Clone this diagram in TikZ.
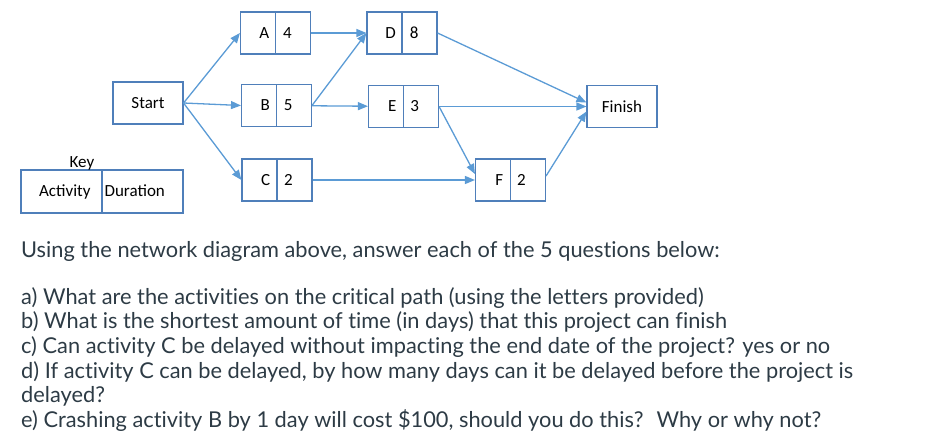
\documentclass[tikz,border=0pt]{standalone}
\usepackage{fontspec}
\setmainfont{Carlito}
\newfontfamily\questionfont[Ligatures=NoCommon]{Lato}
\usepackage{tikz}
\usetikzlibrary{shapes, arrows.meta, positioning}
\definecolor{boxColor}{HTML}{4F7FBA}
\definecolor{arrowColor}{HTML}{5B9BD5}
\definecolor{questionColor}{HTML}{2D3B45}
\tikzstyle{startstop} = [rectangle, 
minimum width=70pt, 
minimum height=42pt,
text centered, 
draw=boxColor,
line width=1.1pt]
\tikzstyle{activity} = [rectangle, 
minimum width=70pt, 
minimum height=42pt,
text centered, 
draw=boxColor,
line width=1.1pt,
path picture={
      \draw [boxColor, line width=1.1pt]
        (path picture bounding box.north) -- (path picture bounding box.south);
    }
]
\tikzstyle{arrow} = [line width=1.3pt, draw=arrowColor, -{Triangle[length=10pt,width=8pt]}]
\tikzstyle{question} = [anchor=north west, inner sep=0pt, align=left,
text=questionColor, font=\questionfont\fontsize{21.8}{24.6}\selectfont]

\begin{document}
\begin{tikzpicture}[x=1pt,y=-1pt,font=\fontsize{17}{20}\selectfont]
    \useasboundingbox (0,0) rectangle (927,442);
    % Nodes
    \node[startstop] (start) at (148,103) {Start};
    \node[activity] (A) at (275.5,33) {A\hspace{14pt}4};
    \node[activity] (B) at (276.5,105.5) {B\hspace{14pt}5};
    \node[activity] (C) at (277,180) {C\hspace{14pt}2};
    \node[activity] (D) at (402,33) {D\hspace{14pt}8};
    \node[activity] (E) at (403.5,106.5) {E\hspace{14pt}3};
    \node[activity] (F) at (510.5,180) {F\hspace{14pt}2};
    \node[startstop] (finish) at (622,106.5) {Finish};
    \node[activity, minimum width=162pt, minimum height=43pt] (key) at (102,191.5) {Activity\hspace{14pt}Duration};
    \node[anchor=base, inner sep=0pt] (keylabel) at (82,167) {Key};

    % Questions
    \node[question] (questions) at (21,241) {Using the network diagram above, answer each of the 5 questions below:\\[22.4pt]
a) What are the activities on the critical path (using the letters provided)\\
b) What is the shortest amount of time (in days) that this project can finish\\
c) Can activity C be delayed without impacting the end date of the project? yes or no\\
d) If activity C can be delayed, by how many days can it be delayed before the project is\\
delayed?\\
e) Crashing activity B by 1 day will cost \$100, should you do this?~ Why or why not?};

    % Arrows
    \draw[arrow] (start.east) -- (A.west);
    \draw[arrow] (start.east) -- (B.west);
    \draw[arrow] (start.east) -- (C.west);
    \draw[arrow] (A) -- (D);
    \draw[arrow] (B.east) -- (D.west);
    \draw[arrow] (B) -- (E);
    \draw[arrow] (D.east) -- ([yshift=4pt]finish.west);
    \draw[arrow] (E) -- (finish);
    \draw[arrow] (E.east) -- ([yshift=6pt]F.west);
    \draw[arrow] (C) -- (F);
    \draw[arrow] ([yshift=4pt]F.east) -- ([yshift=-5pt]finish.west);
\end{tikzpicture}
\end{document}
